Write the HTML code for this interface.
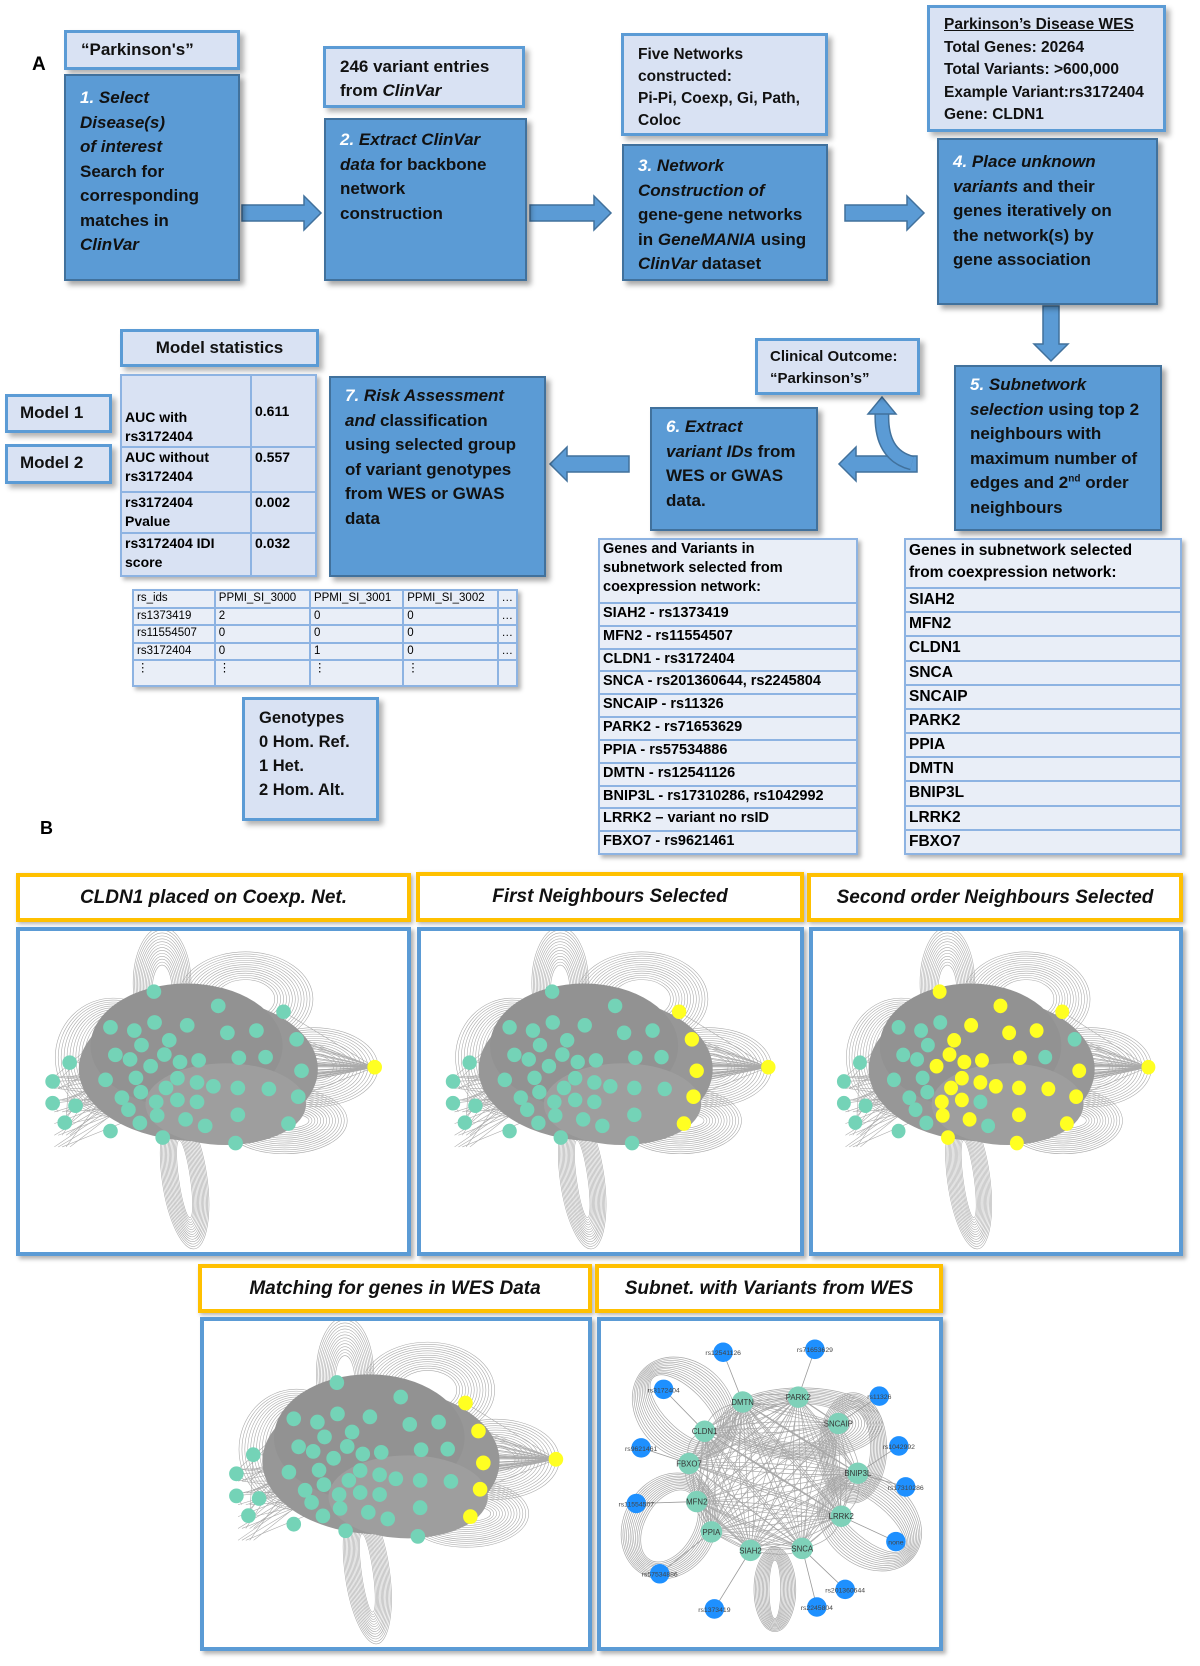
<!DOCTYPE html>
<html><head><meta charset="utf-8">
<style>
body{margin:0;width:1200px;height:1666px;position:relative;background:#fff;font-family:"Liberation Sans",Arial,sans-serif;overflow:hidden}
.b{position:absolute;box-sizing:border-box}
.dk{background:#5b9bd5;border:2px solid #41719c;box-shadow:4px 4px 5px rgba(0,0,0,.35);font-weight:bold;font-size:17px;line-height:24.5px;padding:8px 12px;color:#111;white-space:nowrap}
.lt{background:#d9e2f3;border:3px solid #5b9bd5;box-shadow:4px 4px 5px rgba(0,0,0,.3);font-weight:bold;font-size:15.5px;line-height:22px;padding:6px 12px;color:#111;white-space:nowrap}
.n{color:#fff;font-style:italic}
i{font-style:italic}
table{border-collapse:collapse}
.tbl td{border:2px solid #8db3e2;padding:0 3px;vertical-align:top;white-space:nowrap}
.tt{background:#fff;border:4px solid #ffc000;box-shadow:2px 2px 4px rgba(0,0,0,.3);font-weight:bold;font-style:italic;font-size:19px;display:flex;align-items:center;justify-content:center;color:#111}
.pn{background:#fff;border:4px solid #5b9bd5;box-shadow:3px 3px 4px rgba(0,0,0,.3)}
.pn svg{position:absolute;left:0;top:0}
</style></head><body>

<svg class="b" style="left:0;top:0" width="1200" height="1666">
<g fill="#5b9bd5" stroke="#41719c" stroke-width="1.5">
<polygon points="242,205 304,205 304,196 321,213 304,230 304,221 242,221"/>
<polygon points="530,205 594,205 594,196 611,213 594,230 594,221 530,221"/>
<polygon points="845,205 907,205 907,196 924,213 907,230 907,221 845,221"/>
<polygon points="1043,306 1059,306 1059,344 1068,344 1051,361 1034,344 1043,344"/>
<polygon points="917,456 856,456 856,447 839,464 856,481 856,472 917,472"/>
<polygon points="629,456 567,456 567,447 550,464 567,481 567,472 629,472"/>
</g>
<path d="M912,463 Q880,455 882,412" fill="none" stroke="#41719c" stroke-width="15"/>
<path d="M912,463 Q880,455 882,412" fill="none" stroke="#5b9bd5" stroke-width="12"/>
<polygon points="868,414 896,414 882,397" fill="#5b9bd5" stroke="#41719c" stroke-width="1.5"/>
</svg>

<div class="b" style="left:32px;top:54px;font-weight:bold;font-size:19px">A</div>
<div class="b" style="left:40px;top:818px;font-weight:bold;font-size:18px">B</div>

<div class="b lt" style="left:64px;top:30px;width:176px;height:40px;font-size:17px;padding:6px 14px">“Parkinson's”</div>
<div class="b dk" style="left:64px;top:74px;width:176px;height:207px;padding:10px 14px"><span class="n">1.</span> <i>Select<br>Disease(s)<br>of interest</i><br>Search for<br>corresponding<br>matches in<br><i>ClinVar</i></div>

<div class="b lt" style="left:323px;top:46px;width:202px;height:62px;font-size:17px;line-height:24px;padding:6px 14px">246 variant entries<br>from <i>ClinVar</i></div>
<div class="b dk" style="left:324px;top:118px;width:203px;height:163px;padding:8px 14px"><span class="n">2.</span> <i>Extract ClinVar<br>data</i> for backbone<br>network<br>construction</div>

<div class="b lt" style="left:621px;top:33px;width:207px;height:103px;padding:8px 14px">Five Networks<br>constructed:<br>Pi-Pi, Coexp, Gi, Path,<br>Coloc</div>
<div class="b dk" style="left:622px;top:144px;width:206px;height:137px;padding:8px 14px"><span class="n">3.</span> <i>Network<br>Construction of</i><br>gene-gene networks<br>in <i>GeneMANIA</i> using<br><i>ClinVar</i> dataset</div>

<div class="b lt" style="left:927px;top:5px;width:239px;height:127px;padding:6px 14px;line-height:22.5px"><u>Parkinson’s Disease WES</u><br>Total Genes: 20264<br>Total Variants: &gt;600,000<br>Example Variant:rs3172404<br>Gene: CLDN1</div>
<div class="b dk" style="left:937px;top:138px;width:221px;height:167px;padding:10px 14px"><span class="n">4.</span> <i>Place unknown<br>variants</i> and their<br>genes iteratively on<br>the network(s) by<br>gene association</div>

<div class="b dk" style="left:954px;top:365px;width:208px;height:166px;padding:6px 14px"><span class="n">5.</span> <i>Subnetwork<br>selection</i> using top 2<br>neighbours with<br>maximum number of<br>edges and 2<sup style="font-size:10px;line-height:0">nd</sup> order<br>neighbours</div>

<div class="b lt" style="left:755px;top:338px;width:165px;height:57px;padding:5px 12px;font-size:15px">Clinical Outcome:<br>“Parkinson’s”</div>
<div class="b dk" style="left:650px;top:407px;width:168px;height:124px;padding:6px 14px"><span class="n">6.</span> <i>Extract<br>variant IDs</i> from<br>WES or GWAS<br>data.</div>

<div class="b dk" style="left:329px;top:376px;width:217px;height:201px;padding:6px 14px"><span class="n">7.</span> <i>Risk Assessment<br>and</i> classification<br>using selected group<br>of variant genotypes<br>from WES or GWAS<br>data</div>

<div class="b lt" style="left:120px;top:329px;width:199px;height:38px;text-align:center;font-size:17px;padding:5px">Model statistics</div>
<div class="b lt" style="left:5px;top:394px;width:107px;height:39px;font-size:17px;padding:5px 12px">Model 1</div>
<div class="b lt" style="left:5px;top:444px;width:107px;height:40px;font-size:17px;padding:5px 12px">Model 2</div>

<table class="b tbl" style="left:120px;top:374px;width:197px;height:203px;background:#d9e2f3;font-weight:bold;font-size:14px;line-height:19px;box-shadow:3px 3px 4px rgba(0,0,0,.3)">
<tr style="height:72px"><td style="width:122px;vertical-align:bottom">AUC with<br>rs3172404</td><td style="vertical-align:middle">0.611</td></tr>
<tr style="height:45px"><td>AUC without<br>rs3172404</td><td>0.557</td></tr>
<tr style="height:41px"><td>rs3172404<br>Pvalue</td><td>0.002</td></tr>
<tr><td>rs3172404 IDI<br>score</td><td>0.032</td></tr>
</table>

<table class="b tbl" style="left:132px;top:589px;width:386px;height:98px;background:#e9eef7;font-size:11.5px;line-height:14px;box-shadow:3px 3px 4px rgba(0,0,0,.3)">
<tr><td style="width:75px">rs_ids</td><td style="width:88px">PPMI_SI_3000</td><td style="width:86px">PPMI_SI_3001</td><td style="width:87px">PPMI_SI_3002</td><td>…</td></tr>
<tr><td>rs1373419</td><td>2</td><td>0</td><td>0</td><td>…</td></tr>
<tr><td>rs11554507</td><td>0</td><td>0</td><td>0</td><td>…</td></tr>
<tr><td>rs3172404</td><td>0</td><td>1</td><td>0</td><td>…</td></tr>
<tr style="height:26px"><td>⋮</td><td>⋮</td><td>⋮</td><td>⋮</td><td></td></tr>
</table>

<div class="b lt" style="left:242px;top:697px;width:137px;height:124px;font-size:16.5px;line-height:24px;padding:6px 14px">Genotypes<br>0 Hom. Ref.<br>1 Het.<br>2 Hom. Alt.</div>

<table class="b tbl" style="left:598px;top:538px;width:260px;height:317px;background:#e9eef7;font-weight:bold;font-size:14.5px;line-height:19px;box-shadow:3px 3px 4px rgba(0,0,0,.3)">
<tr style="height:64px"><td>Genes and Variants in<br>subnetwork selected from<br>coexpression network:</td></tr>
<tr><td>SIAH2 - rs1373419</td></tr><tr><td>MFN2 - rs11554507</td></tr><tr><td>CLDN1 - rs3172404</td></tr><tr><td>SNCA - rs201360644, rs2245804</td></tr><tr><td>SNCAIP - rs11326</td></tr><tr><td>PARK2 - rs71653629</td></tr><tr><td>PPIA - rs57534886</td></tr><tr><td>DMTN - rs12541126</td></tr><tr><td>BNIP3L - rs17310286, rs1042992</td></tr><tr><td>LRRK2 – variant no rsID</td></tr><tr><td>FBXO7 - rs9621461</td></tr>
</table>

<table class="b tbl" style="left:904px;top:538px;width:278px;height:317px;background:#e9eef7;font-weight:bold;font-size:15.5px;line-height:22px;box-shadow:3px 3px 4px rgba(0,0,0,.3)">
<tr style="height:49px"><td>Genes in subnetwork selected<br>from coexpression network:</td></tr>
<tr><td>SIAH2</td></tr><tr><td>MFN2</td></tr><tr><td>CLDN1</td></tr><tr><td>SNCA</td></tr><tr><td>SNCAIP</td></tr><tr><td>PARK2</td></tr><tr><td>PPIA</td></tr><tr><td>DMTN</td></tr><tr><td>BNIP3L</td></tr><tr><td>LRRK2</td></tr><tr><td>FBXO7</td></tr>
</table>

<div class="b tt" style="left:16px;top:873px;width:395px;height:49px">CLDN1 placed on Coexp. Net.</div>
<div class="b tt" style="left:416px;top:872px;width:388px;height:50px">First Neighbours Selected</div>
<div class="b tt" style="left:807px;top:873px;width:376px;height:49px">Second order Neighbours Selected</div>
<div class="b tt" style="left:198px;top:1264px;width:394px;height:49px">Matching for genes in WES Data</div>
<div class="b tt" style="left:595px;top:1264px;width:348px;height:49px">Subnet. with Variants from WES</div>

<div class="b pn" style="left:16px;top:927px;width:395px;height:329px"><svg id="p1" width="387" height="321" viewBox="0 0 395 330" preserveAspectRatio="none"></svg></div>
<div class="b pn" style="left:417px;top:927px;width:387px;height:329px"><svg id="p2" width="379" height="321" viewBox="0 0 395 330" preserveAspectRatio="none"></svg></div>
<div class="b pn" style="left:809px;top:927px;width:374px;height:329px"><svg id="p3" width="366" height="321" viewBox="0 0 395 330" preserveAspectRatio="none"></svg></div>
<div class="b pn" style="left:200px;top:1317px;width:392px;height:334px"><svg id="p4" width="384" height="326" viewBox="0 0 395 330" preserveAspectRatio="none"></svg></div>
<div class="b pn" style="left:597px;top:1317px;width:346px;height:334px"><svg id="p5" width="338" height="326" viewBox="0 0 346 334"></svg></div>

<script>
var NS="http://www.w3.org/2000/svg";
function el(p,t,a){var e=document.createElementNS(NS,t);for(var k in a)e.setAttribute(k,a[k]);p.appendChild(e);return e;}
var raw=[[458,388],[655,432],[855,450],[460,483],[560,492],[683,515],[772,508],[325,498],[398,508],[505,538],[895,535],[420,553],[340,583],[385,597],[490,582],[595,600],[718,592],[800,590],[200,607],[448,618],[538,605],[910,632],[148,665],[310,660],[403,654],[530,655],[590,668],[640,680],[715,685],[810,688],[900,712],[148,732],[218,740],[360,715],[418,698],[495,685],[465,728],[530,722],[590,728],[380,752],[185,792],[325,818],[415,793],[468,770],[555,782],[615,802],[715,768],[870,795],[485,838],[708,855]];
var nodes=raw.map(function(p){return [p[0]/3-16,p[1]/3-67];});
function net(id,yf){
 var s=document.getElementById(id);
 var g=el(s,"g",{fill:"none",stroke:"#aaa","stroke-width":"0.6"});
 var i;
 for(i=0;i<14;i++){el(g,"ellipse",{cx:145,cy:60-i*0.5,rx:10+i*1.5,ry:25+i*2.5});el(g,"ellipse",{cx:230,cy:70,rx:30+i*3,ry:20+i*2.2});}
 for(i=0;i<14;i++){el(g,"ellipse",{cx:95,cy:130,rx:20+i*3,ry:35+i*2});}
 for(i=0;i<14;i++){el(g,"ellipse",{cx:300,cy:140,rx:20+i*3.5,ry:12+i*2.2});el(g,"ellipse",{cx:270,cy:195,rx:25+i*3,ry:8+i*2});}
 for(i=0;i<14;i++){el(g,"ellipse",{cx:168,cy:255,rx:6+i*1.3,ry:40+i*2.5,transform:"rotate(-8 168 255)"});}
 for(i=0;i<40;i++){var a=nodes[i%nodes.length];el(g,"line",{x1:a[0],y1:a[1],x2:35+(i%5)*4,y2:150+(i%7)*12});el(g,"line",{x1:a[0],y1:a[1],x2:362,y2:140});}
 el(s,"ellipse",{cx:182,cy:142,rx:122,ry:74,fill:"#979797"});
 el(s,"ellipse",{cx:170,cy:118,rx:98,ry:64,fill:"#929292"});
 el(s,"ellipse",{cx:210,cy:178,rx:82,ry:42,fill:"#9e9e9e"});
 nodes.forEach(function(p,k){var y=yf(p,k);el(s,"circle",{cx:p[0],cy:p[1],r:7.5,fill:y?"#ffff22":"#74d3b7"});});
 el(s,"circle",{cx:362,cy:140,r:7.5,fill:"#ffff22"});
}
net("p1",function(){return false;});
net("p2",function(p){return p[0]>265;});
net("p3",function(p,k){return p[0]>125 && k%7!=3;});
net("p4",function(p){return p[0]>255;});
(function(){
 var s=document.getElementById("p5");
 var T={DMTN:[145,83],PARK2:[202,78],SNCAIP:[243,105],CLDN1:[106,113],FBXO7:[90,146],BNIP3L:[263,156],MFN2:[98,185],LRRK2:[246,200],PPIA:[113,216],SIAH2:[153,235],SNCA:[206,233]};
 var B=[["rs12541126",125,32,"DMTN"],["rs71653629",219,29,"PARK2"],["rs3172404",64,70,"CLDN1"],["rs11326",285,77,"SNCAIP"],["rs9621461",41,130,"FBXO7"],["rs1042992",305,128,"BNIP3L"],["rs17310286",312,170,"BNIP3L"],["rs11554507",36,187,"MFN2"],["none",302,226,"LRRK2"],["rs57534886",60,259,"PPIA"],["rs1373419",116,295,"SIAH2"],["rs2245804",221,293,"SNCA"],["rs201360644",250,275,"SNCA"]];
 var g=el(s,"g",{fill:"none",stroke:"#a8a8a8","stroke-width":"0.7"});
 var keys=Object.keys(T),i,j;
 for(i=0;i<keys.length;i++)for(j=i+1;j<keys.length;j++){var a=T[keys[i]],b=T[keys[j]];
  for(var m=0;m<3;m++){var mx=(a[0]+b[0])/2+(m-1)*14,my=(a[1]+b[1])/2+(m-1)*10;el(g,"path",{d:"M"+a[0]+","+a[1]+" Q"+mx+","+my+" "+b[0]+","+b[1]});}}
 for(i=0;i<12;i++){el(g,"ellipse",{cx:85,cy:90,rx:20+i*2.5,ry:45+i*1.2,transform:"rotate(-45 85 90)"});
  el(g,"ellipse",{cx:275,cy:205,rx:18+i*2.5,ry:45+i*1.2,transform:"rotate(-50 275 205)"});
  el(g,"ellipse",{cx:178,cy:275,rx:6+i*1.4,ry:30+i*1.2});
  el(g,"ellipse",{cx:205,cy:105,rx:50+i*3,ry:20+i*1.5});
  el(g,"ellipse",{cx:70,cy:210,rx:25+i*2,ry:40+i*1.5,transform:"rotate(30 70 210)"});
  el(g,"ellipse",{cx:258,cy:130,rx:18+i*1.5,ry:40+i*1.5});}
 B.forEach(function(v){var t=T[v[3]];el(s,"line",{x1:v[1],y1:v[2],x2:t[0],y2:t[1],stroke:"#999","stroke-width":"0.8"});});
 keys.forEach(function(k){var p=T[k];el(s,"circle",{cx:p[0],cy:p[1],r:11,fill:"#7fd1b9"});var t=el(s,"text",{x:p[0],y:p[1]+3,"font-size":"8","text-anchor":"middle",fill:"#333","font-family":"Liberation Sans, sans-serif"});t.textContent=k;});
 B.forEach(function(v){el(s,"circle",{cx:v[1],cy:v[2],r:10,fill:"#1e90ff"});var t=el(s,"text",{x:v[1],y:v[2]+3,"font-size":"7","text-anchor":"middle",fill:"#444","font-family":"Liberation Sans, sans-serif"});t.textContent=v[0];});
})();
</script>
</body></html>
